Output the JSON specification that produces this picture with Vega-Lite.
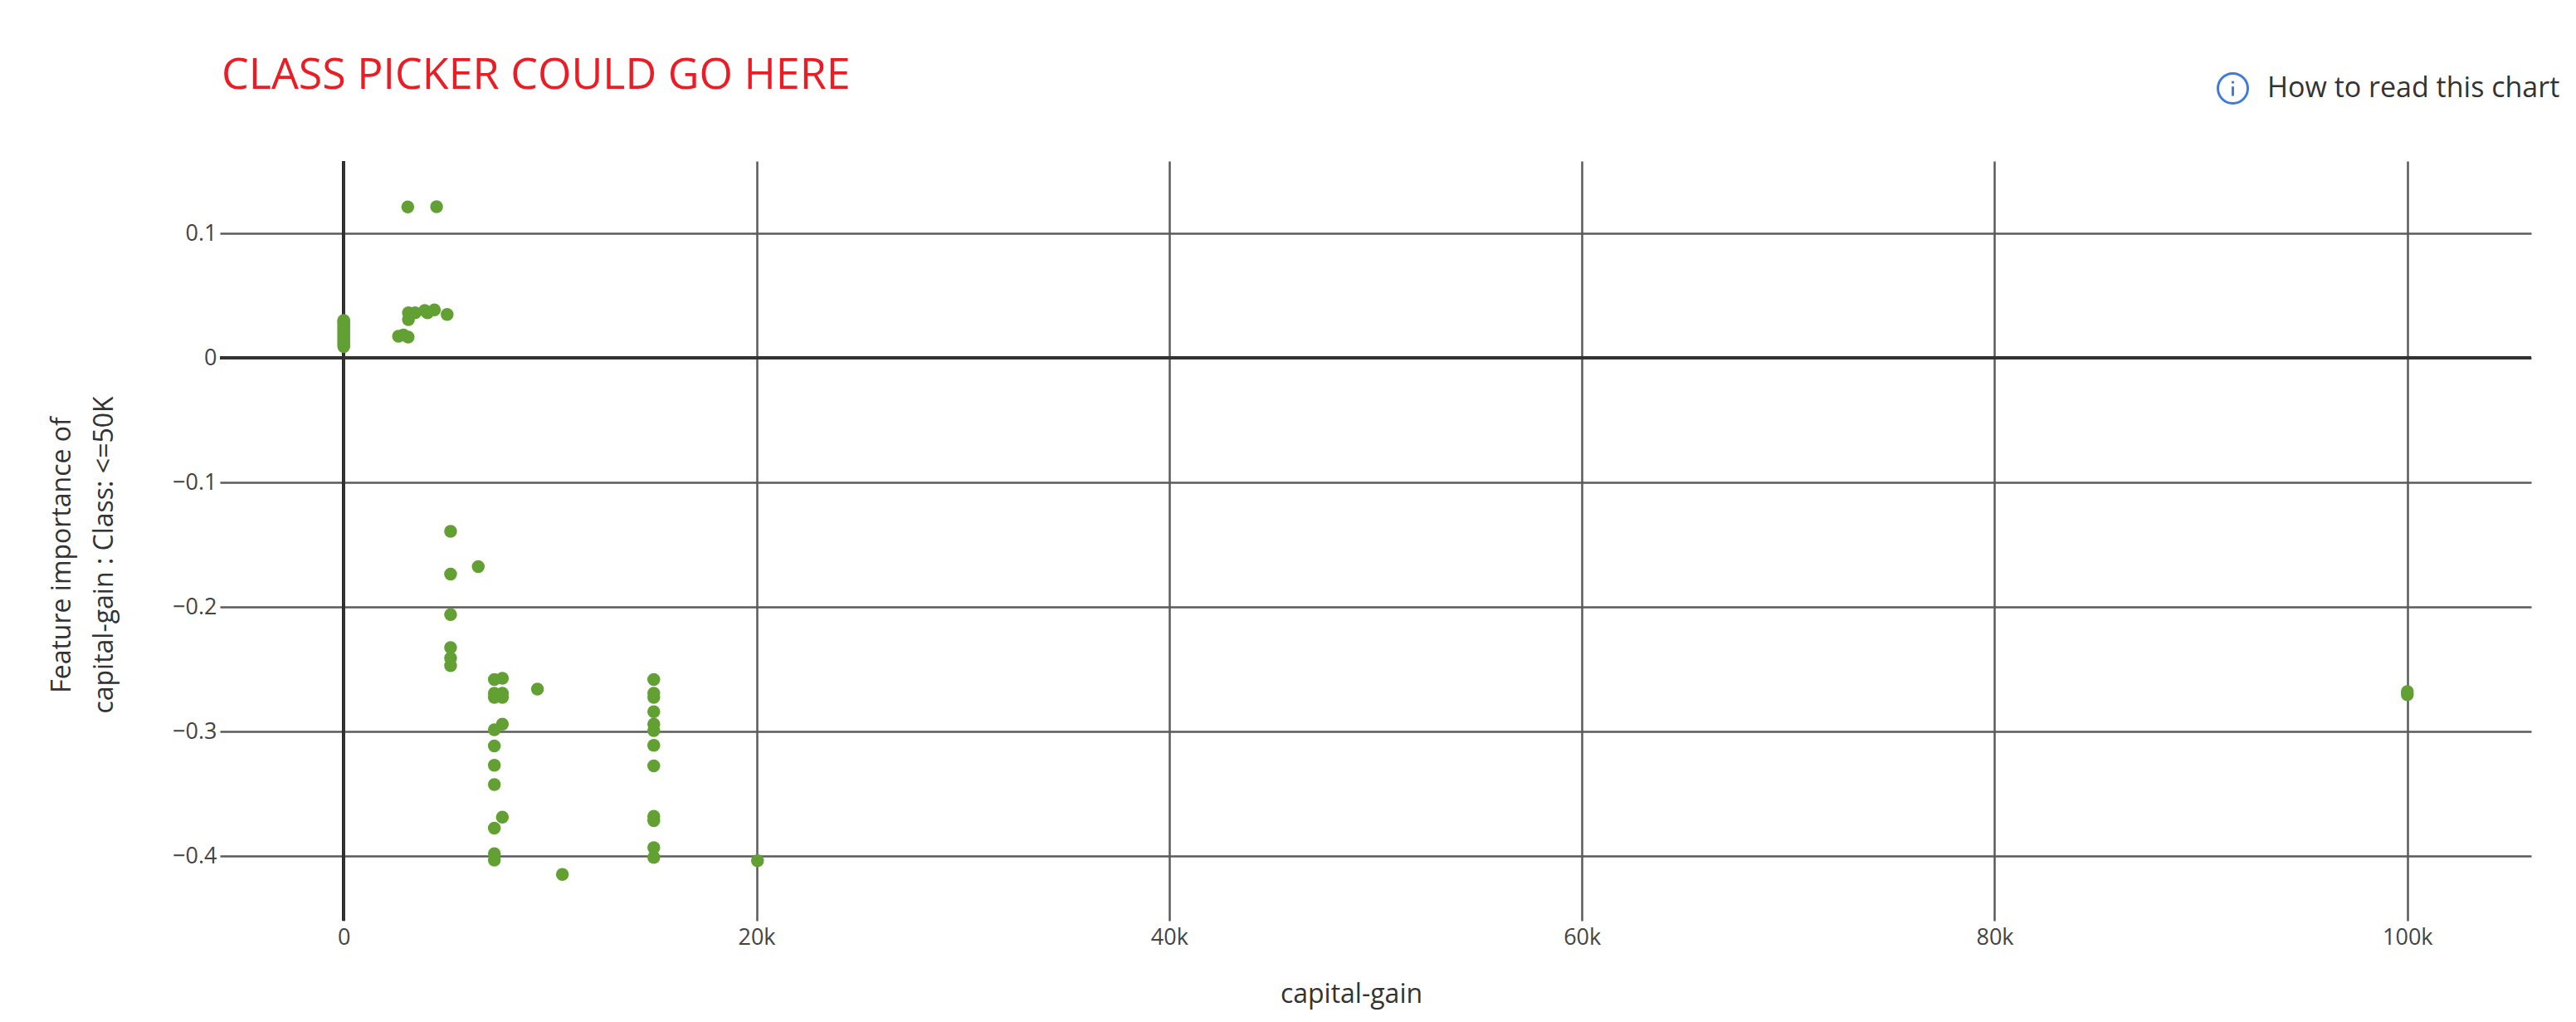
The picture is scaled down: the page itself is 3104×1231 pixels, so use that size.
{
  "$schema": "https://vega.github.io/schema/vega-lite/v6.json",
  "autosize": {"type": "none"},
  "width": 2785,
  "height": 915,
  "padding": {"left": 265, "top": 194, "right": 54, "bottom": 122},
  "background": "white",
  "title": {
    "text": "CLASS PICKER COULD GO HERE",
    "anchor": "start",
    "frame": "group",
    "font": "Open Sans",
    "fontSize": 52,
    "fontWeight": "normal",
    "color": "#ec1c24",
    "baseline": "alphabetic",
    "offset": 0,
    "dy": 72,
    "dx": 2
  },
  "config": {
    "view": {"stroke": null},
    "font": "Open Sans"
  },
  "data": {
    "values": [
      {"gain": 0, "imp": 0.009}, {"gain": 0, "imp": 0.011}, {"gain": 0, "imp": 0.013},
      {"gain": 0, "imp": 0.015}, {"gain": 0, "imp": 0.017}, {"gain": 0, "imp": 0.019},
      {"gain": 0, "imp": 0.021}, {"gain": 0, "imp": 0.023}, {"gain": 0, "imp": 0.025},
      {"gain": 0, "imp": 0.027}, {"gain": 0, "imp": 0.029}, {"gain": 0, "imp": 0.030},
      {"gain": 3103, "imp": 0.1211}, {"gain": 4500, "imp": 0.1213},
      {"gain": 3135, "imp": 0.0362}, {"gain": 3135, "imp": 0.0307}, {"gain": 3457, "imp": 0.0362},
      {"gain": 3926, "imp": 0.038}, {"gain": 4060, "imp": 0.0362}, {"gain": 4394, "imp": 0.0385},
      {"gain": 5011, "imp": 0.0349}, {"gain": 2653, "imp": 0.0173}, {"gain": 2894, "imp": 0.0184},
      {"gain": 3122, "imp": 0.0167},
      {"gain": 5178, "imp": -0.1393}, {"gain": 5178, "imp": -0.1736}, {"gain": 5178, "imp": -0.2062},
      {"gain": 5178, "imp": -0.2327}, {"gain": 5178, "imp": -0.2411}, {"gain": 5178, "imp": -0.2471},
      {"gain": 6519, "imp": -0.1676},
      {"gain": 7298, "imp": -0.2584}, {"gain": 7298, "imp": -0.2693}, {"gain": 7298, "imp": -0.2727},
      {"gain": 7298, "imp": -0.2987}, {"gain": 7298, "imp": -0.3116}, {"gain": 7298, "imp": -0.3271},
      {"gain": 7298, "imp": -0.3427}, {"gain": 7298, "imp": -0.3776}, {"gain": 7298, "imp": -0.3982},
      {"gain": 7298, "imp": -0.4033},
      {"gain": 7688, "imp": -0.2573}, {"gain": 7688, "imp": -0.2693}, {"gain": 7688, "imp": -0.2727},
      {"gain": 7688, "imp": -0.2942}, {"gain": 7688, "imp": -0.3689},
      {"gain": 9386, "imp": -0.266},
      {"gain": 10595, "imp": -0.4149},
      {"gain": 15024, "imp": -0.2584}, {"gain": 15024, "imp": -0.2693}, {"gain": 15024, "imp": -0.2727},
      {"gain": 15024, "imp": -0.2842}, {"gain": 15024, "imp": -0.2942}, {"gain": 15024, "imp": -0.2993},
      {"gain": 15024, "imp": -0.3111}, {"gain": 15024, "imp": -0.3276}, {"gain": 15024, "imp": -0.3682},
      {"gain": 15024, "imp": -0.3716}, {"gain": 15024, "imp": -0.3933}, {"gain": 15024, "imp": -0.4011},
      {"gain": 20051, "imp": -0.4038},
      {"gain": 99999, "imp": -0.268}, {"gain": 99999, "imp": -0.2705}
    ]
  },
  "layer": [
    {
      "mark": {"type": "rule", "color": "#333333", "strokeWidth": 2.5},
      "encoding": {"y": {"datum": 0, "type": "quantitative"}}
    },
    {
      "mark": {"type": "rule", "color": "#333333", "strokeWidth": 2.5},
      "encoding": {"x": {"datum": 0, "type": "quantitative"}}
    },
    {
      "mark": {"type": "point", "filled": true, "fill": "#62a033", "size": 240, "opacity": 1},
      "encoding": {
        "x": {
          "field": "gain",
          "type": "quantitative",
          "scale": {"domain": [-6000, 106000], "nice": false, "zero": false},
          "axis": {
            "title": "capital-gain",
            "values": [0, 20000, 40000, 60000, 80000, 100000],
            "labelExpr": "datum.value == 0 ? '0' : format(datum.value / 1000, 'd') + 'k'",
            "grid": true,
            "gridColor": "#5a5a5a",
            "gridWidth": 2.5,
            "gridOpacity": 1,
            "domain": false,
            "ticks": false,
            "labelFont": "Open Sans",
            "labelFontSize": 27,
            "labelColor": "#444444",
            "labelPadding": 7,
            "titleFont": "Open Sans",
            "titleFontSize": 32,
            "titleFontWeight": "normal",
            "titleColor": "#333333",
            "titleX": 1363,
            "titleY": 98,
            "titleAlign": "center",
            "titleBaseline": "alphabetic"
          }
        },
        "y": {
          "field": "imp",
          "type": "quantitative",
          "scale": {"domain": [-0.452, 0.158], "nice": false, "zero": false},
          "axis": {
            "title": ["Feature importance of", "capital-gain : Class: <=50K"],
            "values": [-0.4, -0.3, -0.2, -0.1, 0, 0.1],
            "format": ".1~f",
            "grid": true,
            "gridColor": "#5a5a5a",
            "gridWidth": 2.5,
            "gridOpacity": 1,
            "domain": false,
            "ticks": false,
            "labelFont": "Open Sans",
            "labelFontSize": 27,
            "labelColor": "#444444",
            "labelPadding": 4,
            "titleFont": "Open Sans",
            "titleFontSize": 32,
            "titleFontWeight": "normal",
            "titleColor": "#333333",
            "titleLineHeight": 51,
            "titleAngle": -90,
            "titleX": -191,
            "titleY": 474,
            "titleAlign": "center",
            "titleBaseline": "middle"
          }
        },
        "color": {
          "datum": "How to read this chart",
          "type": "nominal",
          "scale": {"range": ["transparent"]},
          "legend": {
            "title": null,
            "orient": "none",
            "legendX": 2406,
            "legendY": -107,
            "padding": 0,
            "symbolType": "M -1 0 A 1 1 0 1 1 1 0 A 1 1 0 1 1 -1 0 Z M 0 -0.12 L 0 0.5 M 0 -0.48 L 0 -0.34",
            "symbolSize": 1296,
            "symbolStrokeColor": "#3f7bd9",
            "symbolStrokeWidth": 3,
            "symbolFillColor": "transparent",
            "labelFont": "Open Sans",
            "labelFontSize": 34,
            "labelColor": "#333333",
            "labelOffset": 22,
            "labelLimit": 0
          }
        }
      }
    }
  ]
}
